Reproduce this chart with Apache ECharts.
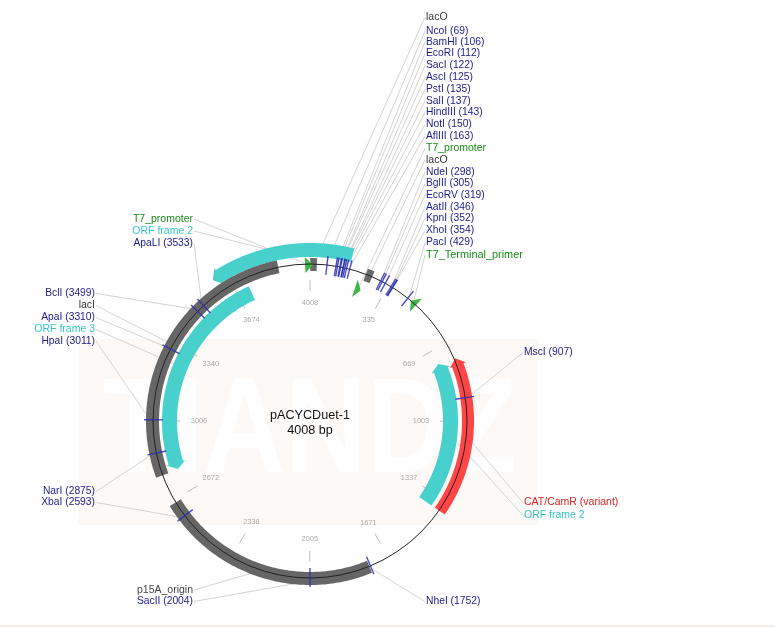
<!DOCTYPE html>
<html>
<head>
<meta charset="utf-8">
<title>pACYCDuet-1</title>
<style>
html, body { margin: 0; padding: 0; background: #fff; }
#main { width: 775px; height: 627px; }
</style>
<script src="https://cdn.jsdelivr.net/npm/echarts@6/dist/echarts.min.js"></script>
</head>
<body>
<div id="main"></div>
<script>
var plasmidName = 'pACYCDuet-1';
var plasmidLength = 4008;

// ticks inside the circle
var tickValues = [4008, 335, 669, 1003, 1337, 1671, 2005, 2338, 2672, 3006, 3340, 3674];

// restriction sites
var siteNames = ['NcoI', 'BamHI', 'EcoRI', 'SacI', 'AscI', 'PstI', 'SalI', 'HindIII', 'NotI', 'AflIII',
    'NdeI', 'BglII', 'EcoRV', 'AatII', 'KpnI', 'XhoI', 'PacI', 'MscI', 'NheI', 'SacII',
    'XbaI', 'NarI', 'HpaI', 'ApaI', 'BclI', 'ApaLI'];
var sitePositions = [69, 106, 112, 122, 125, 135, 137, 143, 150, 163,
    298, 305, 319, 346, 352, 354, 429, 907, 1752, 2004,
    2593, 2875, 3011, 3310, 3499, 3533];

// features, end can run past the plasmid length when the arc crosses the origin
var featureNames = ['ORF frame 2', 'ORF frame 3', 'ORF frame 2', 'CAT/CamR (variant)', 'p15A_origin', 'lacI',
    'lacO', 'lacO', 'T7_promoter', 'T7_promoter', 'T7_Terminal_primer'];
var featureStart = [3622, 2784, 735, 742, 1757, 2781, 1, 232, 3988, 208, 445];
var featureEnd = [4168, 3736, 1390, 1389, 2658, 3878, 28, 260, 4020, 236, 473];

// drawing style per feature, same order: [inner radius, outer radius, colour, arrow side]
var featureStyle = [
    [164, 178, '#48d1cc', 'start'],
    [133, 148, '#48d1cc', 'start'],
    [133, 148, '#48d1cc', 'start'],
    [152, 164, '#ff4545', 'start'],
    [151, 164, '#666666', ''],
    [151, 164, '#666666', ''],
    [150, 163, '#6a6a6a', ''],
    [150, 163, '#6a6a6a', ''],
    [148, 164, '#3fb54a', 'end'],
    [131, 149, '#3fb54a', 'end'],
    [148, 166, '#3fb54a', 'start']
];
var featureLabelColor = ['#35c4c4', '#35c4c4', '#35c4c4', '#e02020', '#444444', '#333333',
    '#333333', '#333333', '#1a8a1a', '#1a8a1a', '#1a8a1a'];
var featureLabelSize = [10.5, 10.5, 10.5, 10.5, 10.5, 10.5, 10.5, 10.5, 10.5, 10.5, 10.9];

// label rows: s = site index, f = feature index, then x, y of the text, align
var labelRows = [
    ['f', 6, 426, 17, 'left'], ['s', 0, 426, 31, 'left'], ['s', 1, 426, 42, 'left'], ['s', 2, 426, 53.5, 'left'],
    ['s', 3, 426, 65.5, 'left'], ['s', 4, 426, 77.5, 'left'], ['s', 5, 426, 89, 'left'], ['s', 6, 426, 101, 'left'],
    ['s', 7, 426, 112.5, 'left'], ['s', 8, 426, 124.5, 'left'], ['s', 9, 426, 136, 'left'], ['f', 9, 426, 148.5, 'left'],
    ['f', 7, 426, 160, 'left'], ['s', 10, 426, 172, 'left'], ['s', 11, 426, 183.5, 'left'], ['s', 12, 426, 195, 'left'],
    ['s', 13, 426, 207, 'left'], ['s', 14, 426, 218.5, 'left'], ['s', 15, 426, 230.5, 'left'], ['s', 16, 426, 242.5, 'left'],
    ['f', 10, 426, 254.5, 'left'],
    ['f', 8, 193, 219, 'right'], ['f', 0, 193, 231, 'right'], ['s', 25, 193, 243, 'right'],
    ['s', 24, 95, 293.5, 'right'], ['f', 5, 95, 305.5, 'right'], ['s', 23, 95, 317.5, 'right'],
    ['f', 1, 95, 329.5, 'right'], ['s', 22, 95, 341, 'right'],
    ['s', 21, 95, 491.5, 'right'], ['s', 20, 95, 502.5, 'right'],
    ['f', 4, 193, 590, 'right'], ['s', 19, 193, 601.5, 'right'],
    ['s', 17, 524, 352.5, 'left'], ['f', 3, 524, 502.5, 'left'], ['f', 2, 524, 515.5, 'left'],
    ['s', 18, 426, 601.5, 'left']
];

var labelFamily = 'px "Liberation Sans", Arial, sans-serif';
var SITE_LABEL_SIZE = 10.3;
var HEAD_BP = 30;
var OVERHANG = 2.5;

// one arc as a polygon, the arrow head sits on the start or the end side
function featurePoints(api, style, from, to) {
    var r0 = style[0], r1 = style[1], side = style[3];
    var mid = (r0 + r1) / 2;
    var bodyFrom = side === 'start' ? from + HEAD_BP : from;
    var bodyTo = side === 'end' ? to - HEAD_BP : to;
    var pts = [];
    var a;
    if (side && to - from <= HEAD_BP + 5) {
        // green triangles have no body
        if (side === 'start') {
            return [api.coord([mid, from]), api.coord([r1, to]), api.coord([r0, to])];
        }
        return [api.coord([r1, from]), api.coord([mid, to]), api.coord([r0, from])];
    }
    for (a = bodyFrom; a < bodyTo; a += 8) {
        pts.push(api.coord([r1, a]));
    }
    pts.push(api.coord([r1, bodyTo]));
    for (a = bodyTo; a > bodyFrom; a -= 8) {
        pts.push(api.coord([r0, a]));
    }
    pts.push(api.coord([r0, bodyFrom]));
    if (side === 'start') {
        pts.push(api.coord([r0 - OVERHANG, bodyFrom]));
        pts.push(api.coord([mid, from]));
        pts.push(api.coord([r1 + OVERHANG, bodyFrom]));
    }
    return pts;
}

// where a leader line lands on the map
function labelTarget(row) {
    if (row[0] === 's') {
        return [160, sitePositions[row[1]]];
    }
    var st = featureStyle[row[1]];
    return [(st[0] + st[1]) / 2, (featureStart[row[1]] + featureEnd[row[1]]) / 2];
}

var myChart = echarts.init(document.getElementById('main'));

var option = {
    animation: false,
    backgroundColor: '#ffffff',
    title: {
        text: plasmidName + '\n' + plasmidLength + ' bp',
        left: 305,
        top: 403,
        textAlign: 'center',
        textStyle: {
            color: '#111',
            fontFamily: '"Liberation Sans", Arial, sans-serif',
            fontSize: 12.6,
            fontWeight: 'normal',
            lineHeight: 15
        }
    },
    graphic: {
        elements: [
            { type: 'rect', z: -10, shape: { x: 78, y: 339, width: 460, height: 186 }, style: { fill: '#fdf9f7' } },
            {
                type: 'text', z: -9, x: 310, y: 434, scaleX: 0.83,
                style: {
                    text: 'TIANDZ', fill: '#ffffff', align: 'center', verticalAlign: 'middle',
                    font: 'bold 136px "Liberation Sans", Arial, sans-serif'
                }
            },
            { type: 'rect', z: -10, shape: { x: 0, y: 625, width: 775, height: 2 }, style: { fill: '#f1f1ea' } }
        ]
    },
    polar: {
        center: [310, 421],
        radius: 157
    },
    radiusAxis: {
        min: 0,
        max: 157,
        show: false
    },
    angleAxis: {
        type: 'value',
        min: 0,
        max: plasmidLength,
        startAngle: 90,
        clockwise: true,
        z: 3,
        axisLine: { lineStyle: { color: '#222', width: 1 } },
        axisTick: { show: false },
        axisLabel: { show: false },
        splitLine: { show: false }
    },
    tooltip: { show: false },
    series: [
        {
            // leader lines and label texts
            name: 'labels',
            type: 'custom',
            coordinateSystem: 'polar',
            z: 1,
            data: labelRows.map(function (row) { return labelTarget(row); }),
            renderItem: function (params, api) {
                var row = labelRows[params.dataIndex];
                var p = api.coord([api.value(0), api.value(1)]);
                var isLeft = row[4] === 'left';
                var isSite = row[0] === 's';
                var text = isSite ? siteNames[row[1]] + ' (' + sitePositions[row[1]] + ')' : featureNames[row[1]];
                var color = isSite ? '#1c1c8a' : featureLabelColor[row[1]];
                var size = isSite ? SITE_LABEL_SIZE : featureLabelSize[row[1]];
                return {
                    type: 'group',
                    children: [
                        {
                            type: 'line',
                            shape: { x1: row[2] + (isLeft ? -1 : 1), y1: row[3], x2: p[0], y2: p[1] },
                            style: { stroke: '#d4d4d4', lineWidth: 1 }
                        },
                        {
                            type: 'text',
                            x: row[2],
                            y: row[3],
                            style: { text: text, fill: color, font: size + labelFamily, align: row[4], verticalAlign: 'middle' }
                        }
                    ]
                };
            }
        },
        {
            // scale ticks
            name: 'ticks',
            type: 'custom',
            coordinateSystem: 'polar',
            z: 1,
            data: tickValues.map(function (v) { return [v]; }),
            renderItem: function (params, api) {
                var v = api.value(0);
                var a = api.coord([130, v]);
                var b = api.coord([141, v]);
                var labelR = 111 + 7 * Math.abs(Math.cos(v / plasmidLength * 2 * Math.PI));
                var c = api.coord([labelR, v]);
                return {
                    type: 'group',
                    children: [
                        {
                            type: 'line',
                            shape: { x1: a[0], y1: a[1], x2: b[0], y2: b[1] },
                            style: { stroke: '#bdbdbd', lineWidth: 1 }
                        },
                        {
                            type: 'text',
                            x: c[0],
                            y: c[1],
                            style: {
                                text: String(v), fill: '#aaaaaa', align: 'center', verticalAlign: 'middle',
                                font: '7.4px "Liberation Sans", Arial, sans-serif'
                            }
                        }
                    ]
                };
            }
        },
        {
            // arcs and arrows
            name: 'features',
            type: 'custom',
            coordinateSystem: 'polar',
            z: 2,
            data: featureNames.map(function (n, i) { return [featureStart[i], featureEnd[i]]; }),
            renderItem: function (params, api) {
                var st = featureStyle[params.dataIndex];
                return {
                    type: 'polygon',
                    shape: { points: featurePoints(api, st, api.value(0), api.value(1)) },
                    style: { fill: st[2] }
                };
            }
        },
        {
            // restriction sites go over the circle
            name: 'sites',
            type: 'custom',
            coordinateSystem: 'polar',
            z: 4,
            data: sitePositions.map(function (v) { return [v]; }),
            renderItem: function (params, api) {
                var a = api.coord([147, api.value(0)]);
                var b = api.coord([166, api.value(0)]);
                return {
                    type: 'line',
                    shape: { x1: a[0], y1: a[1], x2: b[0], y2: b[1] },
                    style: { stroke: 'rgba(45,45,185,0.85)', lineWidth: 1.4 }
                };
            }
        }
    ]
};

myChart.setOption(option);
window.addEventListener('resize', function () {
    myChart.resize();
});
</script>
</body>
</html>
